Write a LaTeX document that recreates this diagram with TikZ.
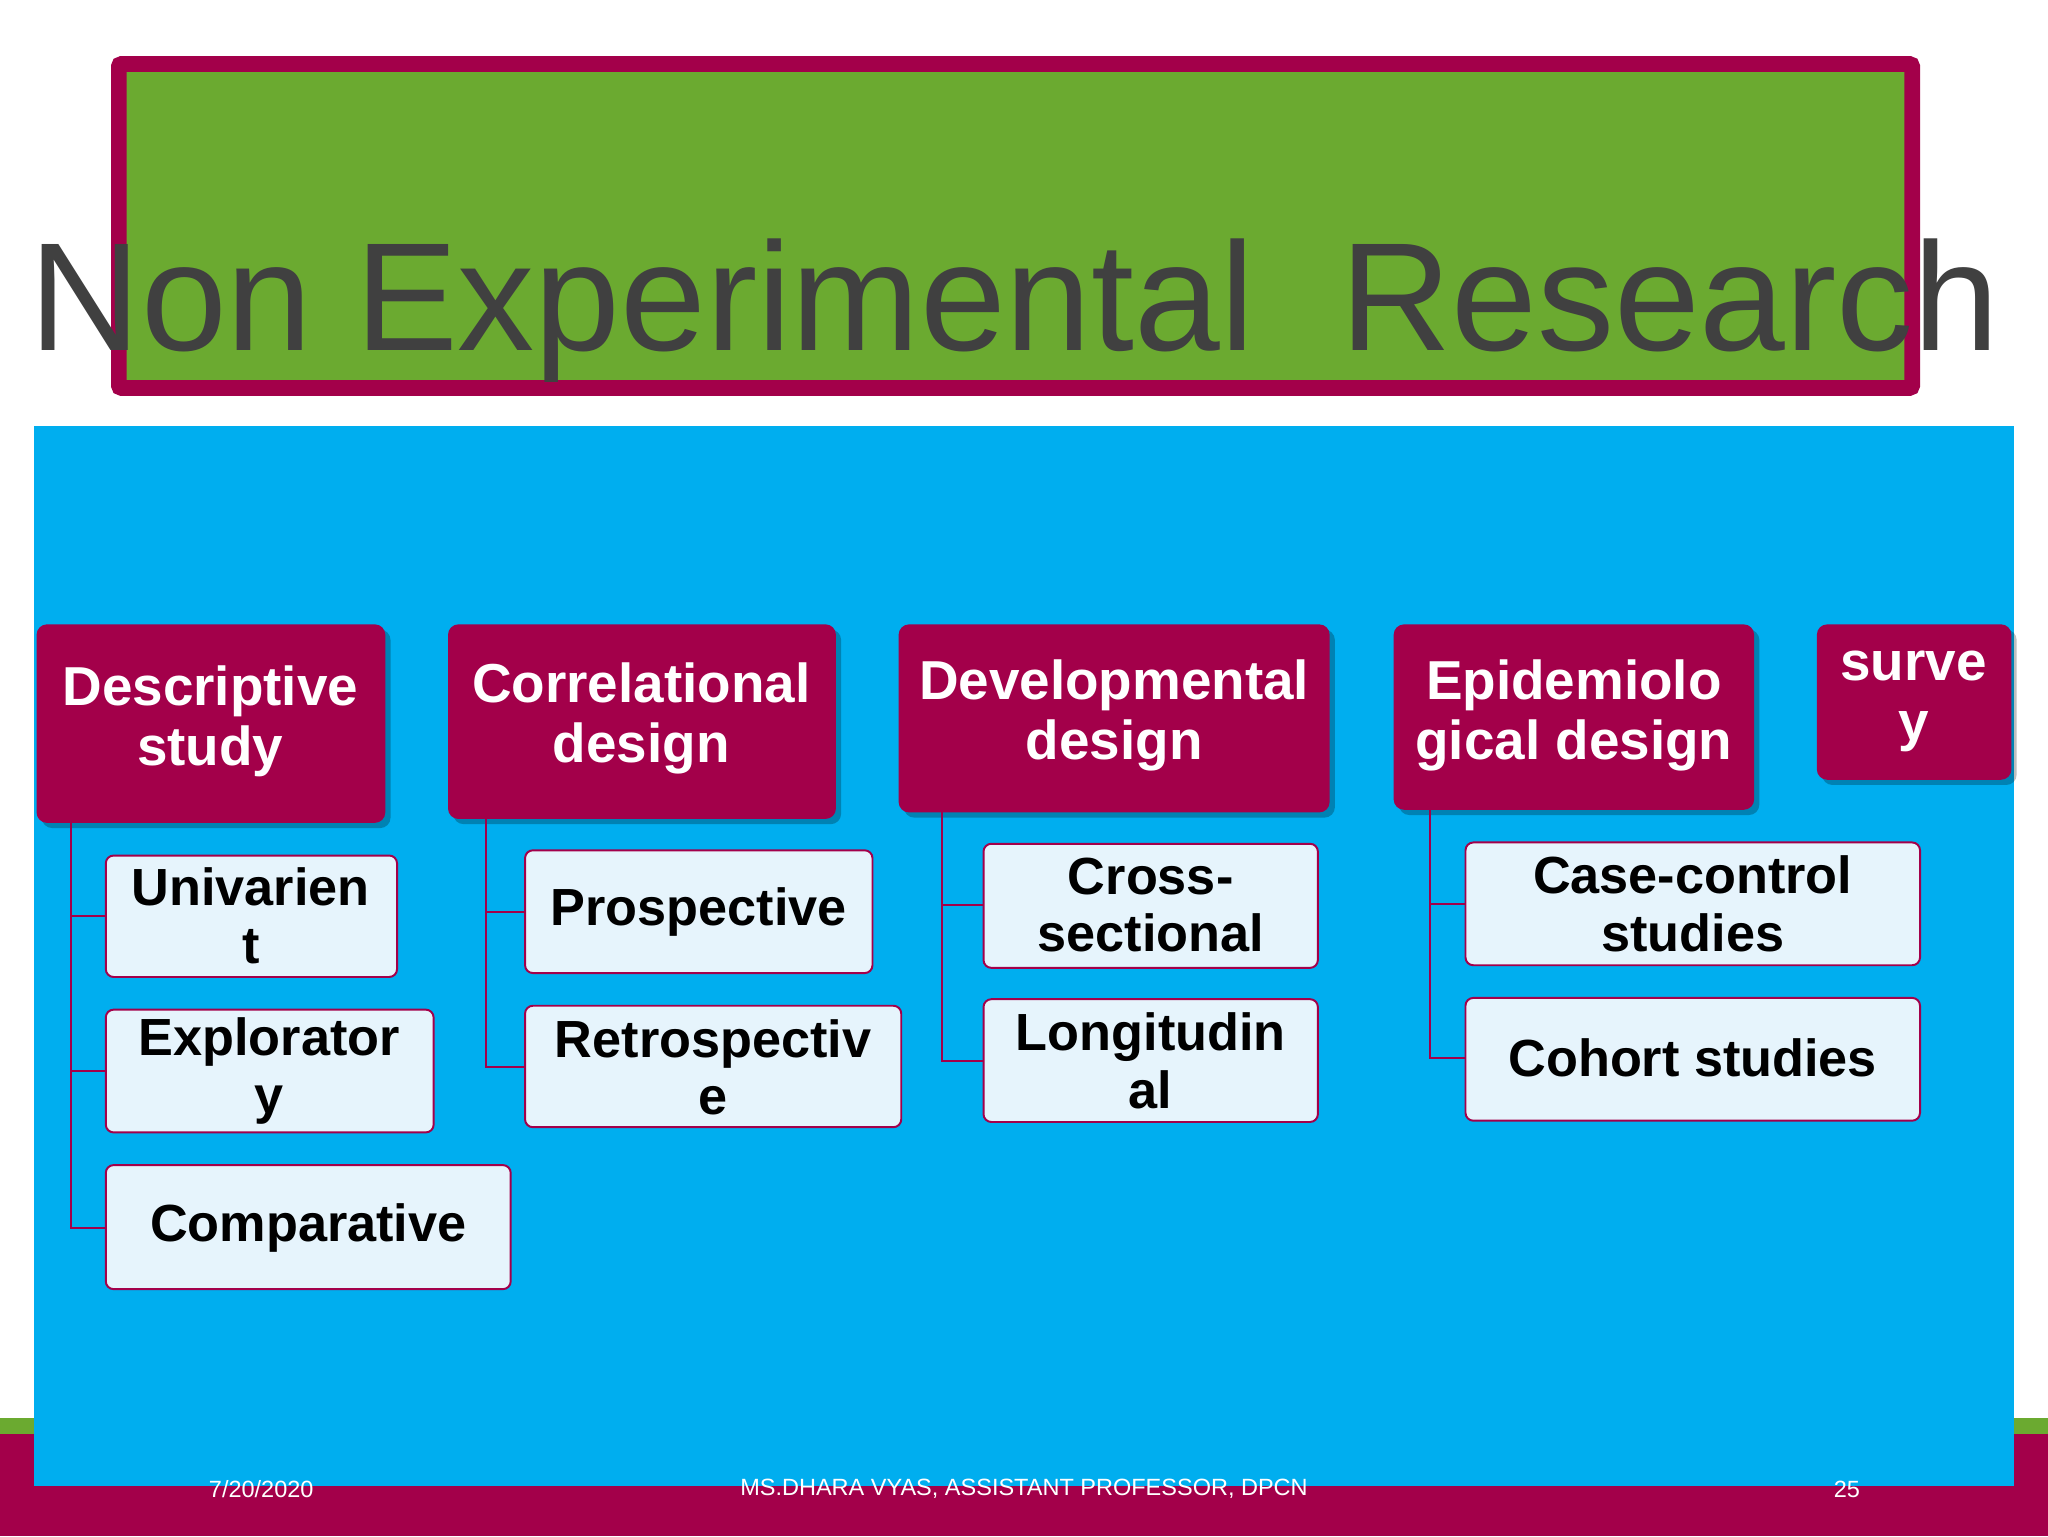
\documentclass[tikz,border=0pt]{standalone}
\usepackage{fontspec}
\setmainfont{Liberation Sans}
\definecolor{crim}{HTML}{A3004A}
\definecolor{grn}{HTML}{6BAA30}
\definecolor{sky}{HTML}{00AEEF}
\definecolor{pale}{HTML}{E6F4FC}
\begin{document}
\begin{tikzpicture}[x=1pt,y=-1pt,
 par/.style={fill=crim,rounded corners=8pt,text=white,font=\fontsize{42}{46}\selectfont\bfseries,align=center,inner sep=0pt},
 kid/.style={fill=pale,draw=crim,line width=1.5pt,rounded corners=6pt,font=\fontsize{40}{44}\selectfont\bfseries,align=center,inner sep=0pt},
 con/.style={draw=crim,line width=1.5pt}]
\useasboundingbox (0,0) rectangle (1568,1176);
\fill[white] (0,0) rectangle (1568,1176);
\fill[grn] (0,1086) rectangle (1568,1098);
\fill[crim] (0,1098) rectangle (1568,1176);
\fill[sky] (26,326) rectangle (1542,1138);
\draw[crim,line width=12pt,fill=grn,rounded corners=2pt] (91,49) rectangle (1464,297);
\node[anchor=base,text=black!75,font=\fontsize{118}{120}\selectfont,inner sep=0pt] (title) at (777,268) {Non Experimental\ \ Research};
\node[anchor=center,text=white,font=\fontsize{18}{20}\selectfont,inner sep=0pt] (f1) at (200,1140) {7/20/2020};
\node[anchor=center,text=white,font=\fontsize{18}{20}\selectfont,inner sep=0pt] (f2) at (784,1140) {MS.DHARA VYAS, ASSISTANT PROFESSOR, DPCN};
\node[anchor=center,text=white,font=\fontsize{18}{20}\selectfont,inner sep=0pt] (f3) at (1414,1140) {25};
% shadows
\foreach \a/\b/\c/\d in {28/478/295/630,343/478/640/627,688/478/1018/622,1067/478/1343/620,1391/478/1540/597}
 \fill[black,opacity=0.25,rounded corners=8pt] (\a+4,\b+4) rectangle (\c+4,\d+4);
\path[par] (28,478) rectangle (295,630); \node[text=white,font=\fontsize{42}{46}\selectfont\bfseries,align=center] (p1) at (161,552) {Descriptive\\study};
\path[par] (343,478) rectangle (640,627); \node[text=white,font=\fontsize{42}{46}\selectfont\bfseries,align=center] (p2) at (491,550) {Correlational\\design};
\path[par] (688,478) rectangle (1018,622); \node[text=white,font=\fontsize{42}{46}\selectfont\bfseries,align=center] (p3) at (853,548) {Developmental\\design};
\path[par] (1067,478) rectangle (1343,620); \node[text=white,font=\fontsize{42}{46}\selectfont\bfseries,align=center] (p4) at (1205,548) {Epidemiolo\\gical design};
\path[par] (1391,478) rectangle (1540,597); \node[text=white,font=\fontsize{42}{46}\selectfont\bfseries,align=center] (p5) at (1465,537) {surve\\y};
% connectors
\coordinate (t1) at (54,630); \coordinate (t2) at (372,627); \coordinate (t3) at (721,622); \coordinate (t4) at (1095,620);
\draw[con] (t1) |- (81,701) (t1) |- (81,820) (t1) |- (81,940);
\draw[con] (t2) |- (402,698) (t2) |- (402,817);
\draw[con] (t3) |- (753,693) (t3) |- (753,812);
\draw[con] (t4) |- (1122,692) (t4) |- (1122,810);
\path[kid] (81,655) rectangle (304,748); \node[font=\fontsize{40}{44}\selectfont\bfseries,align=center] (c1) at (192,701) {Univarien\\t};
\path[kid] (81,773) rectangle (332,867); \node[font=\fontsize{40}{44}\selectfont\bfseries,align=center] (c2) at (206,820) {Explorator\\y};
\path[kid] (81,892) rectangle (391,987); \node[font=\fontsize{40}{44}\selectfont\bfseries,align=center] (c3) at (236,940) {Comparative};
\path[kid] (402,651) rectangle (668,745); \node[font=\fontsize{40}{44}\selectfont\bfseries,align=center] (c4) at (535,698) {Prospective};
\path[kid] (402,770) rectangle (690,863); \node[font=\fontsize{40}{44}\selectfont\bfseries,align=center] (c5) at (546,817) {Retrospectiv\\e};
\path[kid] (753,646) rectangle (1009,741); \node[font=\fontsize{40}{44}\selectfont\bfseries,align=center] (c6) at (881,693) {Cross-\\sectional};
\path[kid] (753,765) rectangle (1009,859); \node[font=\fontsize{40}{44}\selectfont\bfseries,align=center] (c7) at (881,812) {Longitudin\\al};
\path[kid] (1122,645) rectangle (1470,739); \node[font=\fontsize{40}{44}\selectfont\bfseries,align=center] (c8) at (1296,692) {Case-control\\studies};
\path[kid] (1122,764) rectangle (1470,858); \node[font=\fontsize{40}{44}\selectfont\bfseries,align=center] (c9) at (1296,810) {Cohort studies};
\end{tikzpicture}
\end{document}
